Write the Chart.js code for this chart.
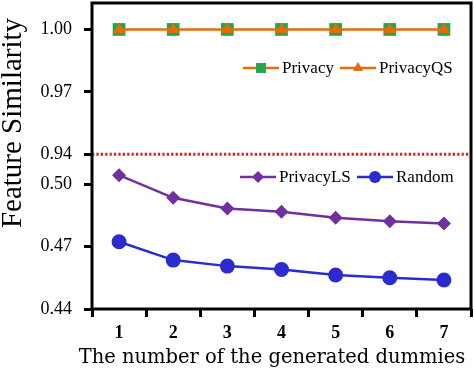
<!DOCTYPE html>
<html>
<head>
<meta charset="utf-8">
<script src="https://cdn.jsdelivr.net/npm/chart.js@4.4.0/dist/chart.umd.min.js"></script>
<style>
    html, body { margin: 0; padding: 0; background: #ffffff; }
    #wrap { width: 474px; height: 368px; }
</style>
</head>
<body>
<div id="wrap"><canvas id="myChart" width="474" height="368"></canvas></div>
<script>
// Data
const dummies = ['1', '2', '3', '4', '5', '6', '7'];
const privacy = [1.00, 1.00, 1.00, 1.00, 1.00, 1.00, 1.00];
const privacyQS = [1.00, 1.00, 1.00, 1.00, 1.00, 1.00, 1.00];
const privacyLS = [0.5043, 0.4934, 0.4883, 0.4867, 0.4838, 0.4822, 0.4811];
const random = [0.4723, 0.4635, 0.4606, 0.4590, 0.4563, 0.4550, 0.4539];
const yTickValues = [0.44, 0.47, 0.50, 0.94, 0.97, 1.00];
const yTickLabels = ['0.44', '0.47', '0.50', '0.94', '0.97', '1.00'];
const breakValue = 0.94; // red dotted line

// broken axis: the upper block (0.94 .. 1.00) is shifted down to sit just above 0.50
const upperShift = 0.94 - 0.5143;
function toAxis(v) {
    return v >= 0.9 ? v - upperShift : v;
}

const serif = "'Liberation Serif', 'Times New Roman', serif";
const wideSerif = "'DejaVu Serif', serif";

// legends drawn inside the plot, plus the break line, frame and axis titles
const extras = {
    id: 'extras',
    afterDatasetsDraw(chart) {
        const ctx = chart.ctx;
        const area = chart.chartArea;
        const y = chart.scales.y;
        // red dotted line at the break
        const yb = y.getPixelForValue(toAxis(breakValue));
        ctx.save();
        ctx.strokeStyle = '#e3191c';
        ctx.lineWidth = 3;
        ctx.setLineDash([2.2, 2.2]);
        ctx.beginPath();
        ctx.moveTo(area.left, yb);
        ctx.lineTo(area.right, yb);
        ctx.stroke();
        ctx.restore();
    },
    afterDraw(chart) {
        const ctx = chart.ctx;
        const area = chart.chartArea;
        ctx.save();
        // frame
        ctx.strokeStyle = '#000000';
        ctx.lineWidth = 3;
        ctx.strokeRect(area.left, area.top, area.right - area.left, area.bottom - area.top);

        // legends
        const rows = [
            { y: 68, items: [[0, 243], [1, 340]] },
            { y: 177, items: [[2, 240], [3, 357]] }
        ];
        ctx.font = '17px ' + serif;
        ctx.textBaseline = 'middle';
        ctx.textAlign = 'left';
        rows.forEach(row => {
            row.items.forEach(([i, x]) => {
                const ds = chart.data.datasets[i];
                ctx.strokeStyle = ds.borderColor;
                ctx.lineWidth = 2.5;
                ctx.beginPath();
                ctx.moveTo(x, row.y);
                ctx.lineTo(x + 36, row.y);
                ctx.stroke();
                ctx.fillStyle = ds.pointBackgroundColor;
                Chart.helpers.drawPoint(ctx, {
                    pointStyle: ds.pointStyle,
                    radius: ds.legendRadius,
                    rotation: 0,
                    borderWidth: 0
                }, x + 18, row.y);
                ctx.fillStyle = '#000000';
                ctx.fillText(ds.label, x + 39, row.y + 1);
            });
        });

        // x axis title
        ctx.textAlign = 'center';
        ctx.textBaseline = 'alphabetic';
        ctx.font = '19.5px ' + wideSerif;
        ctx.fillText('The number of the generated dummies', 272, 363);

        // y axis title
        ctx.translate(13, 123);
        ctx.rotate(-Math.PI / 2);
        ctx.textBaseline = 'middle';
        ctx.font = '29px ' + serif;
        ctx.fillText('Feature Similarity', 0, 0);
        ctx.restore();
    }
};

const data = {
    labels: dummies,
    datasets: [
        {
            label: 'Privacy',
            data: privacy.map(toAxis),
            borderColor: '#e46c0a',
            backgroundColor: '#1fa84f',
            pointBackgroundColor: '#1fa84f',
            pointBorderWidth: 0,
            pointStyle: 'rect',
            pointRadius: 9,
            legendRadius: 7,
            borderWidth: 0,
            showLine: false,
            order: 2
        },
        {
            label: 'PrivacyQS',
            data: privacyQS.map(toAxis),
            borderColor: '#e46c0a',
            backgroundColor: '#e46c0a',
            pointBackgroundColor: '#e46c0a',
            pointBorderWidth: 0,
            pointStyle: 'triangle',
            pointRadius: 7,
            legendRadius: 6,
            borderWidth: 2.5,
            order: 1
        },
        {
            label: 'PrivacyLS',
            data: privacyLS,
            borderColor: '#7030a0',
            backgroundColor: '#7030a0',
            pointBackgroundColor: '#7030a0',
            pointBorderWidth: 0,
            pointStyle: 'rectRot',
            pointRadius: 7,
            legendRadius: 6,
            borderWidth: 2.5,
            order: 3
        },
        {
            label: 'Random',
            data: random,
            borderColor: '#2b2bd0',
            backgroundColor: '#2b2bd0',
            pointBackgroundColor: '#2b2bd0',
            pointBorderWidth: 0,
            pointStyle: 'circle',
            pointRadius: 7.5,
            legendRadius: 6,
            borderWidth: 2.5,
            order: 4
        }
    ]
};

const config = {
    type: 'line',
    data: data,
    options: {
        responsive: false,
        animation: false,
        layout: {
            autoPadding: false,
            padding: { top: 3, right: 3, left: 0, bottom: 0 }
        },
        plugins: {
            legend: { display: false },
            tooltip: { enabled: false }
        },
        scales: {
            x: {
                type: 'category',
                offset: true,
                border: { display: false },
                grid: {
                    offset: true,
                    drawOnChartArea: false,
                    drawTicks: true,
                    tickLength: 8,
                    tickWidth: 3,
                    color: '#000000'
                },
                ticks: {
                    color: '#000000',
                    padding: 6,
                    maxRotation: 0,
                    font: { family: serif, size: 18, weight: 'bold' }
                },
                afterFit: s => {
                    s.height = 59;
                    s.paddingLeft = 0;
                    s.paddingRight = 0;
                }
            },
            y: {
                type: 'linear',
                min: 0.44,
                max: 0.587,
                border: { display: false },
                grid: {
                    drawOnChartArea: false,
                    drawTicks: true,
                    tickLength: 8,
                    tickWidth: 3,
                    color: '#000000'
                },
                afterBuildTicks: s => {
                    s.ticks = yTickValues.map(v => ({ value: toAxis(v) }));
                },
                ticks: {
                    color: '#000000',
                    padding: 12,
                    font: { family: serif, size: 18 },
                    callback: (val, i) => yTickLabels[i]
                },
                afterFit: s => {
                    s.width = 92;
                    s.paddingTop = 0;
                    s.paddingBottom = 0;
                }
            }
        }
    },
    plugins: [extras]
};

const myChart = new Chart(document.getElementById('myChart'), config);
</script>
</body>
</html>
